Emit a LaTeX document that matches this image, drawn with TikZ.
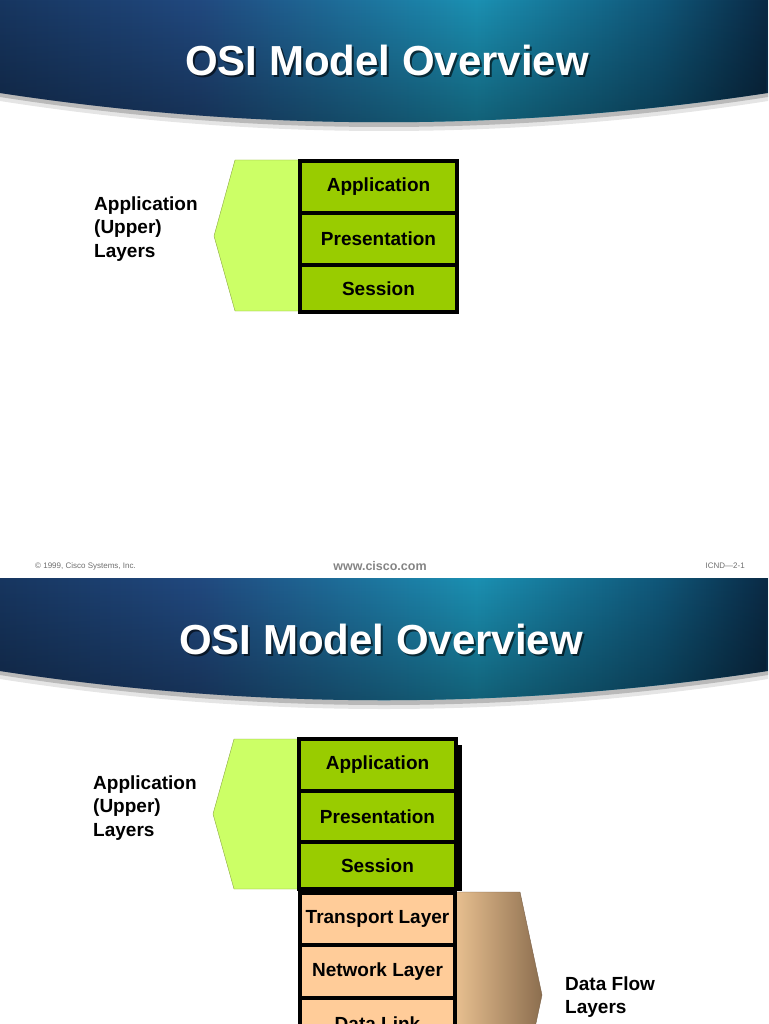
\documentclass[tikz,border=0pt]{standalone}
\usepackage{fontspec}
\setmainfont{Liberation Sans}
\usetikzlibrary{positioning,fadings}

\definecolor{bandA}{HTML}{173660}
\definecolor{bandB}{HTML}{21497F}
\definecolor{bandC}{HTML}{1B90B2}
\definecolor{bandD}{HTML}{105678}
\definecolor{bandE}{HTML}{0A2A45}
\definecolor{uppergreen}{HTML}{99CC00}
\definecolor{upperlight}{HTML}{CCFF66}
\definecolor{upperedge}{HTML}{8AA640}
\definecolor{lowerpeach}{HTML}{FFCC99}
\definecolor{flowlight}{HTML}{E8C090}
\definecolor{flowdark}{HTML}{8C6E4F}
\definecolor{flowedge}{HTML}{7A6048}
\definecolor{footgrey}{HTML}{6E6E6E}

\pgfdeclarehorizontalshading{band}{100bp}{color(0bp)=(bandA); color(25bp)=(bandA);
  color(38bp)=(bandB); color(56bp)=(bandC); color(68bp)=(bandD); color(75bp)=(bandE);
  color(100bp)=(bandE)}

\tikzset{
  layer/.style={draw=black, line width=3.2pt, minimum width=157pt, inner sep=0pt,
    outer sep=0pt, font=\fontsize{19}{23}\selectfont\bfseries},
  upper/.style={layer, fill=uppergreen},
  lower/.style={layer, fill=lowerpeach, minimum width=155pt},
  sidelabel/.style={anchor=west, align=left, inner sep=0pt,
    font=\fontsize{19}{23.5}\selectfont\bfseries},
  titletext/.style={anchor=base, text=white, inner sep=0pt,
    font=\fontsize{42}{50}\selectfont\bfseries},
  titleshadow/.style={titletext, text=black, opacity=0.6},
  footnote/.style={text=footgrey, inner sep=0pt, font=\fontsize{8}{9}\selectfont},
  footurl/.style={text=footgrey!85, inner sep=0pt, font=\fontsize{12.5}{14}\selectfont\bfseries},
}

\begin{document}
\begin{tikzpicture}[x=1pt,y=-1pt]
\clip (0,0) rectangle (768,1024);

% header band of each slide
\foreach \slidetop/\titlex in {0/387,578/381}{
  \begin{scope}[yshift=-\slidetop pt]
    \fill[gray!20] (0,0) -- (0,101) .. controls (256,141) and (512,141) .. (768,101) -- (768,0) -- cycle;
    \fill[gray!55] (0,0) -- (0,97) .. controls (256,137) and (512,137) .. (768,97) -- (768,0) -- cycle;
    \shade[shading=band] (0,0) -- (0,93) .. controls (256,132) and (512,132) .. (768,93) -- (768,0) -- cycle;
    \fill[black, opacity=0.35, path fading=north] (0,0) -- (0,93) .. controls (256,132) and (512,132) .. (768,93) -- (768,0) -- cycle;
    \node[titleshadow] (shadow\slidetop) at (\titlex+2,78) {OSI Model Overview};
    \node[titletext] (title\slidetop) at (\titlex,76) {OSI Model Overview};
  \end{scope}
}

% slide 1
\filldraw[fill=upperlight, draw=upperedge] (300,160) -- (235,160) -- (214,236) -- (235,311) -- (300,311) -- cycle;
\node[upper, minimum height=52pt] (app) at (378.5,187) {Application};
\node[upper, minimum height=52pt, below=0pt of app] (pres) {Presentation};
\node[upper, minimum height=47pt, below=0pt of pres] (sess) {Session};
\node[sidelabel] (upperlbl) at (94,229) {Application\\(Upper)\\Layers};

\node[footnote, anchor=west] (copy) at (35,566) {© 1999, Cisco Systems, Inc.};
\node[footurl] (url) at (380,566) {www.cisco.com};
\node[footnote, anchor=east] (code) at (745,566) {ICND—2-1};

% slide 2
\filldraw[fill=upperlight, draw=upperedge] (299,739) -- (234,739) -- (213,814) -- (234,889) -- (299,889) -- cycle;
\fill[black] (455,745) rectangle (462,891);
\node[upper, minimum height=52pt] (app2) at (377.5,765) {Application};
\node[upper, minimum height=51pt, below=0pt of app2] (pres2) {Presentation};
\node[upper, minimum height=47pt, below=0pt of pres2] (sess2) {Session};
\node[sidelabel] (upperlbl2) at (93,808) {Application\\(Upper)\\Layers};

\shade[left color=flowlight, right color=flowdark, draw=flowedge] (455,892) -- (520,892) -- (542,995) -- (520,1098) -- (455,1098) -- cycle;
\node[lower, minimum height=52pt] (trans) at (377.5,919) {Transport Layer};
\node[lower, minimum height=53pt, below=0pt of trans] (net) {Network Layer};
\node[lower, minimum height=52pt, below=0pt of net] (dlink) {Data Link};
\node[sidelabel] (flowlbl) at (565,997) {Data Flow\\Layers};
\end{tikzpicture}
\end{document}
